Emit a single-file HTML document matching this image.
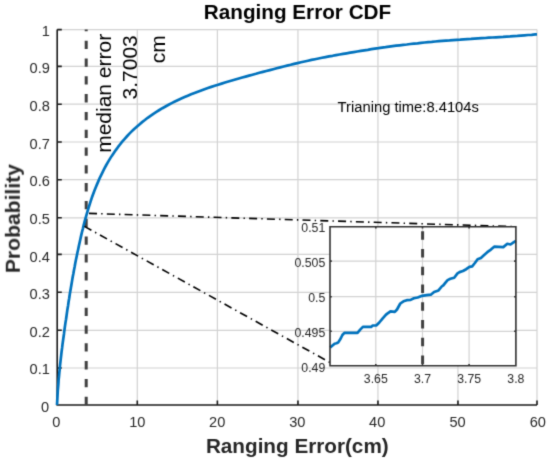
<!DOCTYPE html>
<html><head><meta charset="utf-8"><title>Ranging Error CDF</title>
<style>html,body{margin:0;padding:0;background:#fff;}body{width:550px;height:462px;overflow:hidden;}svg{display:block;}</style>
</head><body>
<svg width="550" height="462" viewBox="0 0 550 462" font-family="'Liberation Sans', Arial, Helvetica, sans-serif">
<defs><filter id="bl" filterUnits="userSpaceOnUse" x="0" y="0" width="550" height="462" color-interpolation-filters="sRGB"><feConvolveMatrix order="3" kernelMatrix="0.0192 0.1001 0.0192 0.1001 0.5228 0.1001 0.0192 0.1001 0.0192" edgeMode="duplicate" preserveAlpha="false"/></filter></defs>
<rect width="550" height="462" fill="#fff"/>
<g filter="url(#bl)">
<path d="M137.30 29.60V405.00M217.40 29.60V405.00M297.95 29.60V405.00M377.95 29.60V405.00M457.95 29.60V405.00M537.00 29.60V405.00M57.20 368.00H537.00M57.20 330.30H537.00M57.20 292.30H537.00M57.20 254.40H537.00M57.20 217.80H537.00M57.20 179.70H537.00M57.20 142.00H537.00M57.20 104.20H537.00M57.20 66.40H537.00M57.20 29.60H537.00" stroke="#d2d2d2" stroke-width="1.2" fill="none"/>
<path d="M57.20 29.60V405.00H537.00M57.20 405.00h4.6M57.20 368.00h4.6M57.20 330.30h4.6M57.20 292.30h4.6M57.20 254.40h4.6M57.20 217.80h4.6M57.20 179.70h4.6M57.20 142.00h4.6M57.20 104.20h4.6M57.20 66.40h4.6M57.20 29.60h4.6M57.20 405.00v-4.6M137.30 405.00v-4.6M217.40 405.00v-4.6M297.95 405.00v-4.6M377.95 405.00v-4.6M457.95 405.00v-4.6M537.00 405.00v-4.6" stroke="#1a1a1a" stroke-width="1.6" fill="none"/>
<text x="49.2" y="412.10" text-anchor="end" font-size="14.6" fill="#262626">0</text>
<text x="49.9" y="374.45" text-anchor="end" font-size="14.6" fill="#262626">0.1</text>
<text x="49.9" y="336.80" text-anchor="end" font-size="14.6" fill="#262626">0.2</text>
<text x="49.9" y="299.15" text-anchor="end" font-size="14.6" fill="#262626">0.3</text>
<text x="49.9" y="261.50" text-anchor="end" font-size="14.6" fill="#262626">0.4</text>
<text x="49.9" y="223.85" text-anchor="end" font-size="14.6" fill="#262626">0.5</text>
<text x="49.9" y="186.20" text-anchor="end" font-size="14.6" fill="#262626">0.6</text>
<text x="49.9" y="148.55" text-anchor="end" font-size="14.6" fill="#262626">0.7</text>
<text x="49.9" y="110.90" text-anchor="end" font-size="14.6" fill="#262626">0.8</text>
<text x="49.9" y="73.25" text-anchor="end" font-size="14.6" fill="#262626">0.9</text>
<text x="49.9" y="35.60" text-anchor="end" font-size="14.6" fill="#262626">1</text>
<text x="56.20" y="426.6" text-anchor="middle" font-size="14.6" fill="#262626">0</text>
<text x="137.30" y="426.6" text-anchor="middle" font-size="14.6" fill="#262626">10</text>
<text x="217.15" y="426.6" text-anchor="middle" font-size="14.6" fill="#262626">20</text>
<text x="297.30" y="426.6" text-anchor="middle" font-size="14.6" fill="#262626">30</text>
<text x="377.15" y="426.6" text-anchor="middle" font-size="14.6" fill="#262626">40</text>
<text x="457.50" y="426.6" text-anchor="middle" font-size="14.6" fill="#262626">50</text>
<text x="537.75" y="426.6" text-anchor="middle" font-size="14.6" fill="#262626">60</text>
<path d="M86.20 405.00V29.60" stroke="#404040" stroke-width="3" stroke-dasharray="8.3 9.5" fill="none"/>
<polyline points="57.0,405.0 57.2,401.4 57.4,397.9 57.6,394.3 57.8,390.7 58.1,387.1 58.4,383.6 58.6,380.0 59.0,376.4 59.3,372.9 59.7,369.3 60.0,365.7 60.4,362.2 60.8,358.6 61.2,355.1 61.6,351.5 62.1,347.9 62.5,344.4 63.0,340.8 63.5,337.3 64.0,333.7 64.4,330.2 64.9,326.6 65.4,323.1 66.0,319.5 66.5,316.0 67.0,312.4 67.5,308.9 68.1,305.4 68.6,301.8 69.2,298.3 69.7,294.8 70.3,291.2 70.9,287.7 71.5,284.2 72.1,280.6 72.7,277.1 73.4,273.6 74.0,270.1 74.7,266.6 75.3,263.1 76.0,259.6 76.7,256.2 77.4,252.7 78.2,249.2 78.9,245.8 79.7,242.3 80.4,238.9 81.2,235.4 82.0,232.0 82.9,228.6 83.7,225.1 84.6,221.7 85.5,218.3 86.5,214.9 87.5,211.4 88.5,208.0 89.6,204.6 90.7,201.2 91.8,197.8 93.0,194.5 94.3,191.1 95.6,187.7 97.0,184.4 98.4,181.1 99.8,177.8 101.4,174.6 103.0,171.3 104.6,168.2 106.3,165.0 108.1,161.9 109.9,158.9 111.8,155.9 113.8,153.0 115.8,150.1 117.9,147.2 120.0,144.5 122.2,141.7 124.5,139.1 126.8,136.5 129.2,133.9 131.7,131.4 134.2,129.0 136.8,126.7 139.4,124.4 142.1,122.1 144.9,120.0 147.7,117.8 150.5,115.8 153.4,113.8 156.4,111.9 159.4,110.0 162.4,108.2 165.5,106.5 168.6,104.8 171.7,103.1 174.9,101.5 178.1,100.0 181.3,98.5 184.6,97.1 187.8,95.7 191.1,94.3 194.5,93.0 197.8,91.7 201.2,90.4 204.5,89.2 207.9,88.0 211.3,86.9 214.7,85.8 218.1,84.7 221.6,83.6 225.0,82.5 228.4,81.5 231.9,80.5 235.3,79.5 238.8,78.5 242.2,77.5 245.6,76.6 249.1,75.6 252.5,74.7 256.0,73.8 259.4,72.8 262.9,71.9 266.3,71.0 269.8,70.1 273.2,69.2 276.7,68.3 280.2,67.4 283.6,66.5 287.1,65.6 290.6,64.8 294.1,63.9 297.5,63.1 301.0,62.3 304.5,61.5 308.0,60.7 311.5,59.9 315.0,59.2 318.5,58.5 322.0,57.8 325.5,57.1 329.0,56.4 332.6,55.8 336.1,55.1 339.6,54.5 343.1,53.9 346.6,53.3 350.2,52.7 353.7,52.1 357.2,51.5 360.8,50.9 364.3,50.3 367.8,49.8 371.4,49.2 374.9,48.7 378.4,48.2 382.0,47.6 385.5,47.2 389.1,46.7 392.6,46.2 396.1,45.7 399.7,45.3 403.2,44.9 406.8,44.5 410.4,44.0 413.9,43.6 417.5,43.3 421.0,42.9 424.6,42.5 428.2,42.2 431.7,41.9 435.3,41.5 438.9,41.2 442.4,40.9 446.0,40.6 449.6,40.4 453.1,40.1 456.7,39.8 460.2,39.6 463.8,39.3 467.4,39.1 471.0,38.9 474.5,38.6 478.1,38.4 481.7,38.2 485.2,38.0 488.8,37.7 492.4,37.5 495.9,37.3 499.5,37.1 503.1,36.9 506.7,36.6 510.2,36.4 513.8,36.1 517.4,35.9 520.9,35.6 524.5,35.3 528.1,35.0 531.6,34.8 535.2,34.4 537.0,34.3" stroke="#0072bd" stroke-width="2.7" fill="none" stroke-linejoin="round"/>
<path d="M89 213.4L515.9 226.7M84.4 226.4L330 362.5" stroke="#000" stroke-width="1.6" stroke-dasharray="8.0 4.2 1.4 4.2" fill="none"/>
<text x="297.5" y="19.3" text-anchor="middle" font-size="20.7" font-weight="bold" fill="#000">Ranging Error CDF</text>
<text x="297.3" y="453.2" text-anchor="middle" font-size="20.7" font-weight="bold" fill="#262626">Ranging Error(cm)</text>
<text transform="translate(19.8,218.6) rotate(-90)" text-anchor="middle" font-size="21.1" font-weight="bold" fill="#262626">Probability</text>
<text transform="translate(110.9,33.8) rotate(-90)" text-anchor="end" font-size="21.0" fill="#000">median error</text>
<text transform="translate(136.8,35.2) rotate(-90)" text-anchor="end" font-size="21.0" fill="#000">3.7003</text>
<text transform="translate(164.6,35.2) rotate(-90)" text-anchor="end" font-size="21.0" fill="#000">cm</text>
<text x="337.6" y="111.6" font-size="14.75" fill="#000">Trianing time:8.4104s</text>
<rect x="330.0" y="226.7" width="185.90" height="139.00" fill="#fff"/>
<path d="M375.80 226.70V365.70M422.50 226.70V365.70M469.10 226.70V365.70M330.00 331.30H515.90M330.00 296.70H515.90M330.00 261.10H515.90" stroke="#d2d2d2" stroke-width="1.2" fill="none"/>
<path d="M422.6 365.70V226.70" stroke="#404040" stroke-width="3" stroke-dasharray="8.3 9.45" stroke-dashoffset="15.95" fill="none"/>
<polyline points="330.2,347.6 332.5,345.6 334.6,343.7 336.5,343.3 338.1,342.6 340.7,338.5 342.4,335.0 344.4,332.8 357.5,332.9 360.2,329.6 362.9,326.9 371.1,326.9 372.7,325.5 376.5,325.3 379.3,322.5 382.5,318.7 385.8,314.9 387.7,313.3 390.5,311.3 394.8,311.9 397.0,309.5 400.3,303.5 403.5,301.3 406.8,300.2 410.6,299.9 413.9,298.3 417.7,297.5 422.1,295.8 426.5,295.1 430.8,294.7 434.1,292.0 438.5,290.4 441.7,286.5 443.3,285.4 445.5,282.6 447.6,280.1 450.4,278.8 454.2,277.7 457.5,273.4 459.6,272.1 462.9,271.0 466.2,269.2 469.5,266.8 472.2,266.3 474.9,263.0 477.6,259.2 480.9,257.9 483.6,255.4 487.3,252.2 490.9,249.6 494.2,246.7 503.3,247.1 507.3,243.8 510.5,244.5 513.5,242.4 515.9,240.9" stroke="#0072bd" stroke-width="2.7" fill="none" stroke-linejoin="round"/>
<path d="M330.0 226.7H515.9V365.7H330.0ZM375.80 365.7v-1.8M375.80 226.7v1.8M422.50 365.7v-1.8M422.50 226.7v1.8M469.10 365.7v-1.8M469.10 226.7v1.8M330.0 331.30h1.8M515.9 331.30h-1.8M330.0 296.70h1.8M515.9 296.70h-1.8M330.0 261.10h1.8M515.9 261.10h-1.8" stroke="#303030" stroke-width="1.6" fill="none"/>
<text x="325.3" y="372.29" text-anchor="end" font-size="12.3" fill="#262626">0.49</text>
<text x="325.3" y="337.23" text-anchor="end" font-size="12.3" fill="#262626">0.495</text>
<text x="325.3" y="302.17" text-anchor="end" font-size="12.3" fill="#262626">0.5</text>
<text x="325.3" y="267.11" text-anchor="end" font-size="12.3" fill="#262626">0.505</text>
<text x="325.3" y="232.05" text-anchor="end" font-size="12.3" fill="#262626">0.51</text>
<text x="375.80" y="383.2" text-anchor="middle" font-size="12.3" fill="#262626">3.65</text>
<text x="422.50" y="383.2" text-anchor="middle" font-size="12.3" fill="#262626">3.7</text>
<text x="469.10" y="383.2" text-anchor="middle" font-size="12.3" fill="#262626">3.75</text>
<text x="515.90" y="383.2" text-anchor="middle" font-size="12.3" fill="#262626">3.8</text>
</g>
</svg>
</body></html>
